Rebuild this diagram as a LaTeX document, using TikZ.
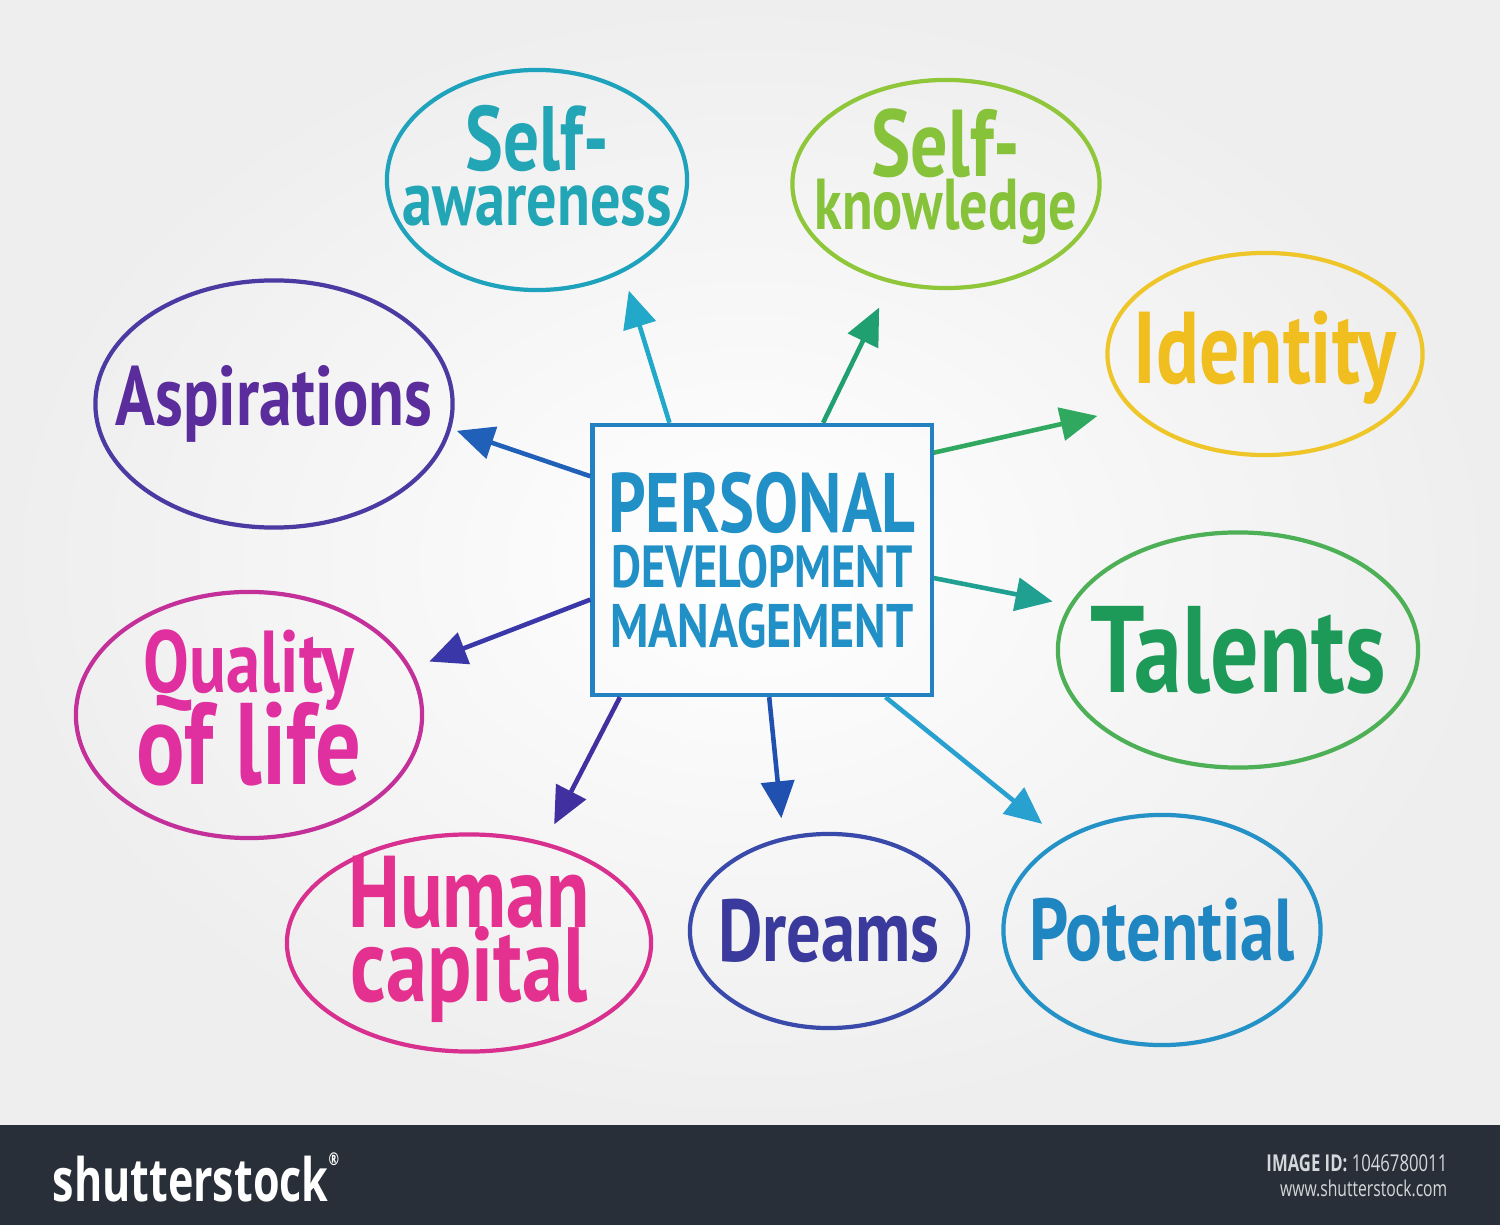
\documentclass[tikz,border=0pt]{standalone}
\usepackage{fontspec}
\usetikzlibrary{shapes.geometric,arrows.meta,positioning}
\newfontfamily\hand[FakeStretch=0.78]{PT Sans}
\newfontfamily\barfont[FakeStretch=0.72]{Open Sans}
\newcommand{\hf}[2]{\hand\bfseries\fontsize{#1}{#2}\selectfont\lineskiplimit=-100pt\lineskip=0pt}

\definecolor{bgC}{HTML}{EEEEEE}
\definecolor{barC}{HTML}{292F38}
\definecolor{barT}{HTML}{D4D8DC}
\definecolor{boxC}{HTML}{2381C2}
\definecolor{boxT}{HTML}{2090C6}
\definecolor{saC}{HTML}{1FA2BC}
\definecolor{saT}{HTML}{22A5B5}
\definecolor{skC}{HTML}{8FC63A}
\definecolor{skT}{HTML}{86C23A}
\definecolor{idC}{HTML}{EEC62A}
\definecolor{idT}{HTML}{F0BE1E}
\definecolor{taC}{HTML}{4DB057}
\definecolor{taT}{HTML}{1E9A58}
\definecolor{poC}{HTML}{2492C6}
\definecolor{poT}{HTML}{1F86C2}
\definecolor{drC}{HTML}{3A4AAA}
\definecolor{drT}{HTML}{3A3A9C}
\definecolor{hcC}{HTML}{D8308E}
\definecolor{hcT}{HTML}{E4308E}
\definecolor{qlC}{HTML}{C4309A}
\definecolor{qlT}{HTML}{E030A0}
\definecolor{asC}{HTML}{4A3AA2}
\definecolor{asT}{HTML}{5A2C9C}
% arrow colours
\definecolor{saA}{HTML}{22A8C8}
\definecolor{skA}{HTML}{20A070}
\definecolor{idA}{HTML}{30A860}
\definecolor{taA}{HTML}{20A090}
\definecolor{poA}{HTML}{28A0D0}
\definecolor{drA}{HTML}{2050B0}
\definecolor{hcA}{HTML}{4030A0}
\definecolor{qlA}{HTML}{3A38A8}
\definecolor{asA}{HTML}{2060B8}

\begin{document}
\begin{tikzpicture}[%
        x=0.01cm, y=-0.01cm,
        >={Triangle[length=0.37cm,width=0.33cm]},
        bubble/.style={ellipse, draw, line width=1.2pt, inner sep=0pt},
        mainbox/.style={rectangle, draw, line width=1.2pt, inner sep=0pt, align=center},
        link/.style={->, line width=1.3pt, shorten >=#1},
        link/.default=0.2cm
        ]
        \useasboundingbox (0,0) rectangle (1500,1225);
        \shade[inner color=white, outer color=bgC] (0,0) rectangle (1500,1125);

        % centre
        \node[mainbox, draw=boxC, text=boxT, font=\hf{17}{15.6}, minimum width=3.39cm, minimum height=2.7cm] (pdm) at (762,560)
            {{\fontsize{24}{24}\selectfont PERSONAL}\\{\fontsize{16.9}{17}\selectfont DEVELOPMENT}\\[1.5pt]{\fontsize{17.5}{17}\selectfont MANAGEMENT}};

        % ideas
        \node[bubble, draw=saC, minimum width=3cm, minimum height=2.2cm,
              label={[text=saT, font=\hf{22}{15.6}, align=center, yshift=4pt]center:{\fontsize{26}{20}\selectfont Self-}\\awareness}] (sa) at (537,180) {};
        \node[bubble, draw=skC, minimum width=3.07cm, minimum height=2.08cm,
              label={[text=skT, font=\hf{20.5}{15}, align=center, yshift=2pt]center:{\fontsize{27}{20}\selectfont Self-}\\knowledge}] (sk) at (946,184) {};
        \node[bubble, draw=idC, minimum width=3.15cm, minimum height=2.02cm,
              label={[text=idT, font=\hf{29}{29}, yshift=-1pt]center:Identity}] (id) at (1265,354) {};
        \node[bubble, draw=taC, minimum width=3.6cm, minimum height=2.35cm,
              label={[text=taT, font=\hf{35}{35}]center:Talents}] (ta) at (1238,650) {};
        \node[bubble, draw=poC, minimum width=3.17cm, minimum height=2.3cm,
              label={[text=poT, font=\hf{25}{25}]center:Potential}] (po) at (1162,930) {};
        \node[bubble, draw=drC, minimum width=2.78cm, minimum height=1.94cm,
              label={[text=drT, font=\hf{25}{25}]center:Dreams}] (dr) at (829,931) {};
        \node[bubble, draw=hcC, minimum width=3.64cm, minimum height=2.17cm,
              label={[text=hcT, font=\hf{29}{21}, align=center, yshift=1pt]center:Human\\{\fontsize{30}{20}\selectfont capital}}] (hc) at (469,943) {};
        \node[bubble, draw=qlC, minimum width=3.46cm, minimum height=2.46cm,
              label={[text=qlT, font=\hf{25}{26}, align=center, yshift=2pt]center:Quality\\{\fontsize{33}{24}\selectfont of life}}] (ql) at (249,715) {};
        \node[bubble, draw=asC, minimum width=3.57cm, minimum height=2.47cm,
              label={[text=asT, font=\hf{24}{24}]center:Aspirations}] (as) at (274,404) {};

        % arrows
        \draw[link=0.19cm, color=saA] (pdm.124) -- (sa.-47);
        \draw[link=0.27cm, color=skA] (pdm.66) -- (sk.-119);
        \draw[link=0.33cm, color=idA] (pdm.32) -- (id.-158);
        \draw[link=0.17cm, color=taA] (pdm.-6) -- (ta.165);
        \draw[link=0.24cm, color=poA] (pdm.-48) -- (po.138);
        \draw[link=0.19cm, color=drA] (pdm.-87) -- (dr.116);
        \draw[link=0.2cm, color=hcA] (pdm.-136) -- (hc.53);
        \draw[link=0.19cm, color=qlA] (pdm.-167) -- (ql.16);
        \draw[link=0.06cm, color=asA] (pdm.154) -- (as.-8);

        % footer bar
        \fill[barC] (0,1125) rectangle (1500,1225);
        \node[anchor=west, inner sep=0pt, text=white, font=\barfont\bfseries\fontsize{17}{17}\selectfont] (brand) at (52,1177)
            {shutterstock\raisebox{1.1ex}{\fontsize{5}{5}\selectfont ®}};
        \node[anchor=east, inner sep=0pt, text=barT, font=\barfont\fontsize{6.6}{7}\selectfont] (imgid) at (1448,1163)
            {\textbf{IMAGE ID:} 1046780011};
        \node[anchor=east, inner sep=0pt, text=barT, font=\barfont\fontsize{6.2}{7}\selectfont] (site) at (1448,1188)
            {www.shutterstock.com};
    \end{tikzpicture}
\end{document}
